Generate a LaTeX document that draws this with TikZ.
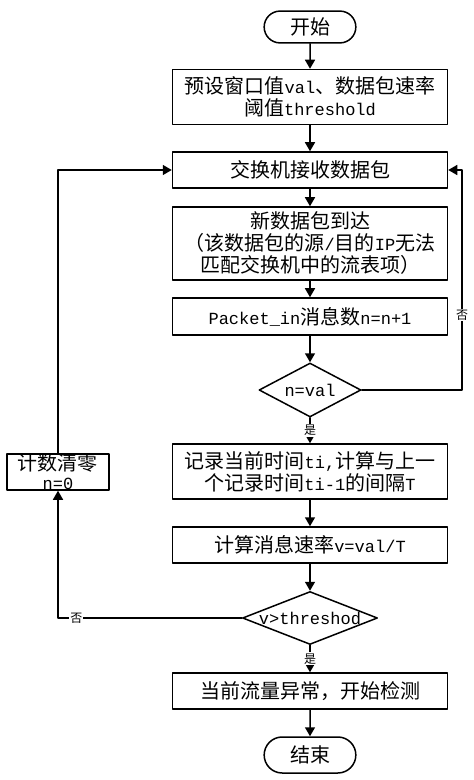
\documentclass[tikz,border=0pt]{standalone}
\usepackage{fontspec}
\setmainfont{Noto Sans CJK SC}
\newfontfamily\lat[Scale=0.85]{Liberation Mono}
\usepackage{tikz}
\usetikzlibrary{arrows.meta}
\usetikzlibrary{shapes.geometric}
\usetikzlibrary{shapes.misc}

\begin{document}
\begin{tikzpicture}[line cap=round,line join=round, x=0.5pt, y=-0.5pt,
  box/.style={draw, line width=0.75pt, minimum width=137.5pt, align=center, inner sep=1pt, font=\fontsize{10}{11}\selectfont},
  term/.style={draw, line width=0.75pt, rounded rectangle, minimum width=52.5pt, font=\fontsize{10}{11}\selectfont},
  test/.style={draw, line width=0.75pt, diamond, inner sep=0pt, font=\fontsize{10}{11}\selectfont},
  flow/.style={line width=0.75pt, -{Triangle[length=4.5pt, width=5pt]}},
  tag/.style={fill=white, inner sep=0.5pt, font=\fontsize{6}{6}\selectfont}]
\useasboundingbox (0,0) rectangle (474,780);
\node[term, minimum height=14.5pt] (start) at (310,27) {开始};
\node[box, minimum height=27.5pt] (preset) at (310,97) {预设窗口值{\lat val}、数据包速率\\阈值{\lat threshold}};
\node[box, minimum height=18pt] (recv) at (310,170) {交换机接收数据包};
\node[box, minimum height=36.5pt] (newpkt) at (310,243.5) {新数据包到达\\（该数据包的源{\lat /}目的{\lat IP}无法\\匹配交换机中的流表项）};
\node[box, minimum height=18.5pt] (count) at (310,316.5) {{\lat Packet\_in}消息数{\lat n=n+1}};
\node[test, minimum width=51pt, minimum height=27pt] (isval) at (310,390) {\makebox[0pt]{\lat n=val}};
\node[box, minimum height=27.5pt] (record) at (310,471.5) {记录当前时间{\lat ti,}计算与上一\\个记录时间{\lat ti-1}的间隔{\lat T}};
\node[box, minimum height=18pt] (rate) at (310,545) {计算消息速率{\lat v=val/T}};
\node[test, minimum width=67.5pt, minimum height=26.5pt] (isfast) at (310,618) {\makebox[0pt]{\lat v>threshod}};
\node[box, minimum height=18pt] (alarm) at (310,691) {当前流量异常，开始检测};
\node[term, minimum height=18pt] (stop) at (310,755) {结束};
\node[box, minimum width=51pt, minimum height=18pt, inner sep=0pt, font=\fontsize{10}{9.5}\selectfont] (reset) at (58,472) {计数清零\\{\lat n=0}};
\coordinate (back) at (462,170);
% main flow
\draw[flow] (start) -- (preset);
\draw[flow] (preset) -- (recv);
\draw[flow] (recv) -- (newpkt);
\draw[flow] (newpkt) -- (count);
\draw[flow] (count) -- (isval);
\draw[flow] (isval) -- node[tag] {是} (record);
\draw[flow] (record) -- (rate);
\draw[flow] (rate) -- (isfast);
\draw[flow] (isfast) -- node[tag] {是} (alarm);
\draw[flow] (alarm) -- (stop);
% loops back
\draw[flow] (isval.east) -| node[tag, pos=0.67] {否} (back) -- (recv.east);
\draw[flow] (isfast.west) -| node[tag, pos=0.45] {否} (reset.south);
\draw[flow] (reset.north) |- (recv.west);
\end{tikzpicture}
\end{document}
